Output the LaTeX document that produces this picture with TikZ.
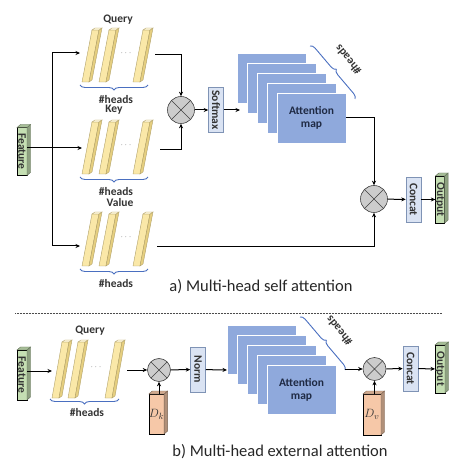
\documentclass[tikz,border=0pt]{standalone}
\usepackage{fontspec}
\setmainfont{Carlito}
\usetikzlibrary{arrows.meta,decorations.pathreplacing}

\definecolor{barfront}{HTML}{FAE8A8}
\definecolor{barside}{HTML}{E6CF80}
\definecolor{barline}{HTML}{B0A068}
\definecolor{featgreen}{HTML}{C5DFB3}
\definecolor{dorange}{HTML}{F6C8A8}
\definecolor{opblue}{HTML}{DAE3F3}
\definecolor{opline}{HTML}{7F93B5}
\definecolor{mapblue}{HTML}{8FA9DC}
\definecolor{braceblue}{HTML}{4A6FC0}
\definecolor{labelgray}{HTML}{333333}
\definecolor{mapinked}{HTML}{1F2A44}

% slanted head bar: bottom-left x, top y, height
\newcommand{\headbar}[3]{%
  \filldraw[draw=barline, fill=barfront, line width=0.4pt]
    (#1,#2+#3) -- (#1+7,#2+#3) -- (#1+17,#2+2) -- (#1+10,#2+2) -- cycle;
  \filldraw[draw=barline, fill=barside, line width=0.4pt]
    (#1+7,#2+#3) -- (#1+10,#2+#3-2) -- (#1+20,#2) -- (#1+17,#2+2) -- cycle;
  \filldraw[draw=barline, fill=barfront!45, line width=0.4pt]
    (#1+10,#2+2) -- (#1+17,#2+2) -- (#1+20,#2) -- (#1+13,#2) -- cycle;
}
% block with a top and a side face: name, centre, width, height, colour, text
\newcommand{\slab}[6]{%
  \node[slabfront, fill=#5, minimum width=#3pt, minimum height=#4pt] (#1) at (#2) {#6};
  \filldraw[draw=#5!50!black, fill=#5!72!black, line width=0.4pt]
    (#1.north east) -- ++(3.5,-3) -- ++(0,#4) -- (#1.south east) -- cycle;
  \filldraw[draw=#5!50!black, fill=#5!85!black, line width=0.4pt]
    (#1.north west) -- ++(3.5,-3) -- ++(#3,0) -- (#1.north east) -- cycle;
}

\begin{document}
\begin{tikzpicture}[x=1pt,y=-1pt,
    >={Stealth[length=4.5pt,width=4pt]},
    conn/.style={line width=1pt,black},
    lbl/.style={font=\fontsize{11.5}{12}\selectfont\bfseries, text=labelgray},
    title/.style={font=\fontsize{16.5}{18}\selectfont, text=black!85},
    slabfront/.style={draw=#1!50!black, line width=0.4pt, inner sep=0pt, outer sep=0pt,
      font=\fontsize{11.5}{12}\selectfont\bfseries, text=black!80},
    slabfront/.default=black,
    opbox/.style={draw=opline, fill=opblue, line width=0.5pt, inner sep=0pt,
      minimum width=15pt, minimum height=45pt,
      font=\fontsize{11.5}{12}\selectfont\bfseries, text=black!80},
    op/.style={circle, draw=black!75, fill=black!20, line width=0.6pt, inner sep=0pt,
      minimum size=#1,
      path picture={\draw[black!75, line width=0.6pt]
        (path picture bounding box.north west) -- (path picture bounding box.south east)
        (path picture bounding box.north east) -- (path picture bounding box.south west);}},
    mapbox/.style={draw=white, fill=mapblue, line width=0.8pt, inner sep=0pt,
      minimum width=69pt, minimum height=50pt, align=center,
      font=\fontsize{11.5}{13}\selectfont\bfseries, text=mapinked},
    headsbrace/.style={decorate, decoration={brace, amplitude=5pt},
      draw=braceblue, line width=0.9pt},
    dotted3/.style={text=black!55, font=\small},
  ]
  \useasboundingbox (0,0) rectangle (474,470);

  % ---------- a) multi-head self attention ----------
  \slab{feat1}{22,151.5}{10}{48}{featgreen}{\rotatebox{-90}{Feature}}

  \foreach \y/\name/\ly/\lx in {28/Query/20/118, 120/Key/110/114, 212/Value/203/120}
  {
    \foreach \x in {82,99,133}
    {
      \headbar{\x}{\y}{54}
    }
    \node[dotted3] (dots\name) at (126,\y+25) {$\cdots$};
    \draw[headsbrace] (148,\y+57) -- (80,\y+57);
    \node[lbl] (heads\name) at (116,\y+72) {\#heads};
    \node[lbl] (lbl\name) at (\lx,\ly) {\name};
  }

  \coordinate (inQuery) at (80,53);
  \coordinate (inKey) at (82,148);
  \coordinate (inValue) at (80,246);
  \coordinate (split) at (52,148);
  \coordinate (outQuery) at (155,55);
  \coordinate (outKey) at (160,150);
  \coordinate (outValue) at (157,247);

  \node[op=27pt] (mul1) at (181,110) {};
  \node[opbox] (soft) at (216,110) {\rotatebox{-90}{Softmax}};
  \coordinate (mapin1) at (240,110);

  \foreach \i in {0,...,3}
  {
    \node[mapbox] (mapa\i) at (271.5+10*\i,78+10*\i) {};
  }
  \node[mapbox] (map1) at (311.5,118) {Attention\\map};
  \draw[headsbrace] (310,46) -- (355,99);
  \node[lbl, rotate=130] (mapheads1) at (348,60) {\#heads};

  \node[op=27pt] (mul2) at (374,199) {};
  \node[opbox] (concat1) at (413.5,199.5) {\rotatebox{-90}{Concat}};
  \slab{out1}{440,199.5}{9}{47}{featgreen}{\rotatebox{-90}{Output}}

  \draw[conn,->] (feat1.east |- inKey) -- (inKey);
  \draw[conn,->] (split) |- (inQuery);
  \draw[conn,->] (split) |- (inValue);
  \draw[conn,->] (outQuery) -| (mul1);
  \draw[conn,->] (outKey) -| (mul1);
  \draw[conn,->] (mul1) -- (soft);
  \draw[conn,->] (soft) -- (mapin1);
  \draw[conn,->] (map1.east) -| (mul2);
  \draw[conn,->] (outValue) -| (mul2);
  \draw[conn,->] (mul2) -- (concat1);
  \draw[conn,->] (concat1) -- (out1);

  \node[title] (titleA) at (261,287) {a) Multi-head self attention};

  \draw[black!70, line width=0.6pt, dash pattern=on 0.7pt off 0.8pt] (15,313) -- (442,313);

  % ---------- b) multi-head external attention ----------
  \slab{feat2}{22,375}{10}{50}{featgreen}{\rotatebox{-90}{Feature}}
  \foreach \x in {52,68,105}
  {
    \headbar{\x}{340}{58}
  }
  \node[dotted3] (dotsQ2) at (96,367) {$\cdots$};
  \draw[headsbrace] (119,399) -- (50,399);
  \node[lbl] (headsQ2) at (87,413) {\#heads};
  \node[lbl] (lblQ2) at (90,331) {Query};
  \coordinate (inQ2) at (52,371);
  \coordinate (outQ2) at (127,370);

  \node[op=23pt] (mul3) at (159,370) {};
  \slab{dk}{156.5,414}{15}{40}{dorange}{\fontsize{13}{14}\selectfont$D_k$}
  \node[opbox] (norm) at (198,369.5) {\rotatebox{-90}{Norm}};
  \coordinate (mapin2) at (227,370);

  \foreach \i in {0,...,3}
  {
    \node[mapbox, minimum height=49pt] (mapb\i) at (261.5+10*\i,349.5+10*\i) {};
  }
  \node[mapbox, minimum height=49pt] (map2) at (301.5,389.5) {Attention\\map};
  \draw[headsbrace] (300,317) -- (345,370);
  \coordinate (braceend) at (345,369);
  \node[lbl, rotate=130] (mapheads2) at (339,331) {\#heads};

  \node[op=23pt] (mul4) at (374.5,369) {};
  \slab{dv}{372,414.5}{18}{41}{dorange}{\fontsize{13}{14}\selectfont$D_v$}
  \node[opbox] (concat2) at (410.5,368.5) {\rotatebox{-90}{Concat}};
  \slab{out2}{440,369}{10}{48}{featgreen}{\rotatebox{-90}{Output}}

  \draw[conn,->] (feat2.east |- inQ2) -- (inQ2);
  \draw[conn,->] (outQ2) -- (mul3);
  \draw[conn,->] (dk.north -| mul3) -- (mul3);
  \draw[conn,->] (mul3) -- (norm);
  \draw[conn,->] (norm) -- (mapin2);
  \draw[conn,->] (braceend) -- (mul4);
  \draw[conn,->] (dv.north -| mul4) -- (mul4);
  \draw[conn,->] (mul4) -- (concat2);
  \draw[conn,->] (concat2) -- (out2);

  \node[title] (titleB) at (280,452) {b) Multi-head external attention};
\end{tikzpicture}
\end{document}
